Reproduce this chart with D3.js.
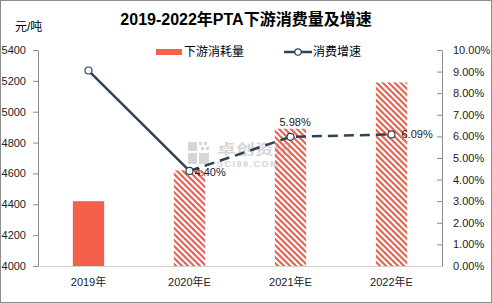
<!DOCTYPE html>
<html>
<head>
<meta charset="utf-8">
<script src="https://cdn.jsdelivr.net/npm/d3@7/dist/d3.min.js"></script>
<style>
  body { margin: 0; background: #fff; }
  text { font-family: "Liberation Sans", "Noto Sans CJK SC", sans-serif; }
</style>
</head>
<body>
<div id="chart"></div>
<script>
const categories = ["2019年", "2020年E", "2021年E", "2022年E"];
const consumption = [4420, 4620, 4890, 5190];
const growth = [0.0905, 0.044, 0.0598, 0.0609];
const growthLabels = ["", "4.40%", "5.98%", "6.09%"];
const leftTicks = [4000, 4200, 4400, 4600, 4800, 5000, 5200, 5400];
const rightTicks = [0, 0.01, 0.02, 0.03, 0.04, 0.05, 0.06, 0.07, 0.08, 0.09, 0.10];

const width = 492, height = 303;
const plot = { left: 38, right: 442, top: 50, bottom: 266 };
const barColor = "#f4604c";
const lineColor = "#2e4356";

const svg = d3.select("#chart").append("svg")
    .attr("width", width)
    .attr("height", height);

// hatch pattern for estimate bars
const defs = svg.append("defs");
defs.append("pattern")
    .attr("id", "hatch")
    .attr("patternUnits", "userSpaceOnUse")
    .attr("width", 6)
    .attr("height", 6)
  .append("path")
    .attr("d", "M0,0L6,6M-1,5L1,7M5,-1L7,1")
    .attr("stroke", barColor)
    .attr("stroke-width", 2.2);

// outer frame
svg.append("rect")
    .attr("x", 0.5).attr("y", 0.5)
    .attr("width", width - 1).attr("height", height - 1)
    .attr("fill", "#fff")
    .attr("stroke", "#8c8c8c");

const x = d3.scaleBand()
    .domain(categories)
    .range([plot.left, plot.right])
    .paddingInner(0.69)
    .paddingOuter(0.345);

const yLeft = d3.scaleLinear().domain([4000, 5400]).range([plot.bottom, plot.top]);
const yRight = d3.scaleLinear().domain([0, 0.10]).range([plot.bottom, plot.top]);

// title
svg.append("text")
    .attr("x", 246).attr("y", 25)
    .attr("text-anchor", "middle")
    .attr("font-size", 16)
    .attr("font-weight", "bold")
    .text("2019-2022年PTA下游消费量及增速");

svg.append("text")
    .attr("x", 15).attr("y", 31)
    .attr("font-size", 12)
    .text("元/吨");

// watermark
const wm = svg.append("g").attr("fill", "#d6d6d6");
wm.append("rect").attr("x", 188).attr("y", 142).attr("width", 9).attr("height", 9);
wm.append("rect").attr("x", 188).attr("y", 153).attr("width", 9).attr("height", 11);
wm.append("rect").attr("x", 199).attr("y", 153).attr("width", 10).attr("height", 11);
[[199, 142], [204, 142], [201, 147], [206, 147]].forEach(([px, py]) => {
    wm.append("rect").attr("x", px).attr("y", py).attr("width", 3).attr("height", 3);
});
wm.append("text")
    .attr("transform", "translate(217,154) scale(1.35,1)")
    .attr("font-size", 14)
    .attr("font-weight", "bold")
    .text("卓创资讯");
wm.append("text")
    .attr("x", 217).attr("y", 167)
    .attr("font-size", 9)
    .attr("font-family", "Liberation Serif, serif")
    .attr("font-weight", "bold")
    .attr("letter-spacing", 1.5)
    .text("SCI99.COM");

// left axis
const leftAxis = svg.append("g")
    .attr("transform", `translate(${plot.left},0)`)
    .call(d3.axisLeft(yLeft).tickValues(leftTicks).tickSize(5).tickSizeOuter(0)
        .tickPadding(7).tickFormat(d3.format("d")));
leftAxis.select(".domain").attr("stroke", "#8c8c8c");
leftAxis.selectAll(".tick line").attr("stroke", "#8c8c8c");
leftAxis.selectAll("text").attr("font-size", 11).attr("fill", "#222")
    .attr("font-family", "Liberation Sans, sans-serif");

// right axis
const rightAxis = svg.append("g")
    .attr("transform", `translate(${plot.right},0)`)
    .call(d3.axisRight(yRight).tickValues(rightTicks).tickSize(0).tickSizeOuter(0)
        .tickPadding(11).tickFormat(d3.format(".2%")));
rightAxis.select(".domain").attr("stroke", "#8c8c8c");
rightAxis.selectAll(".tick").append("line")
    .attr("x1", -5).attr("x2", 0)
    .attr("stroke", "#8c8c8c");
rightAxis.selectAll("text").attr("font-size", 11).attr("fill", "#222")
    .attr("font-family", "Liberation Sans, sans-serif");

// bars
svg.append("g").selectAll("rect")
    .data(categories)
    .join("rect")
    .attr("x", d => x(d))
    .attr("width", x.bandwidth())
    .attr("y", (d, i) => yLeft(consumption[i]))
    .attr("height", (d, i) => plot.bottom - yLeft(consumption[i]))
    .attr("fill", (d, i) => i === 0 ? barColor : "url(#hatch)");

// bottom axis
const bottomAxis = svg.append("g")
    .attr("transform", `translate(0,${plot.bottom})`)
    .call(d3.axisBottom(x).tickSize(0).tickPadding(12));
bottomAxis.select(".domain").attr("stroke", "#d0d0d0");
bottomAxis.selectAll("text").attr("font-size", 11).attr("fill", "#222");

// growth line
const pts = categories.map((c, i) => ({
    x: x(c) + x.bandwidth() / 2,
    y: yRight(growth[i]),
    label: growthLabels[i]
}));
const line = d3.line().x(d => d.x).y(d => d.y);
svg.append("path")
    .attr("d", line(pts.slice(0, 2)))
    .attr("fill", "none")
    .attr("stroke", lineColor)
    .attr("stroke-width", 2.5);
svg.append("path")
    .attr("d", line(pts.slice(1)))
    .attr("fill", "none")
    .attr("stroke", lineColor)
    .attr("stroke-width", 2.5)
    .attr("stroke-dasharray", "10,6");

svg.append("g").selectAll("circle")
    .data(pts)
    .join("circle")
    .attr("cx", d => d.x)
    .attr("cy", d => d.y)
    .attr("r", 3.5)
    .attr("fill", "#fff")
    .attr("stroke", lineColor)
    .attr("stroke-width", 1.2);

// data labels
const labelOffsets = [[0, 0], [5, 5], [-11, -11], [10, 4]];
svg.append("g").selectAll("text")
    .data(pts)
    .join("text")
    .attr("x", (d, i) => d.x + labelOffsets[i][0])
    .attr("y", (d, i) => d.y + labelOffsets[i][1])
    .attr("font-size", 11)
    .attr("fill", "#222")
    .text(d => d.label);

// legend
const legend = svg.append("g");
legend.append("rect")
    .attr("x", 156).attr("y", 49)
    .attr("width", 26).attr("height", 6)
    .attr("fill", barColor);
legend.append("text")
    .attr("x", 184).attr("y", 56)
    .attr("font-size", 12)
    .text("下游消耗量");
legend.append("line")
    .attr("x1", 284).attr("x2", 312)
    .attr("y1", 52).attr("y2", 52)
    .attr("stroke", lineColor)
    .attr("stroke-width", 2.5);
legend.append("circle")
    .attr("cx", 298).attr("cy", 52).attr("r", 3.2)
    .attr("fill", "#fff")
    .attr("stroke", lineColor)
    .attr("stroke-width", 1.2);
legend.append("text")
    .attr("x", 313).attr("y", 56)
    .attr("font-size", 12)
    .text("消费增速");
</script>
</body>
</html>
